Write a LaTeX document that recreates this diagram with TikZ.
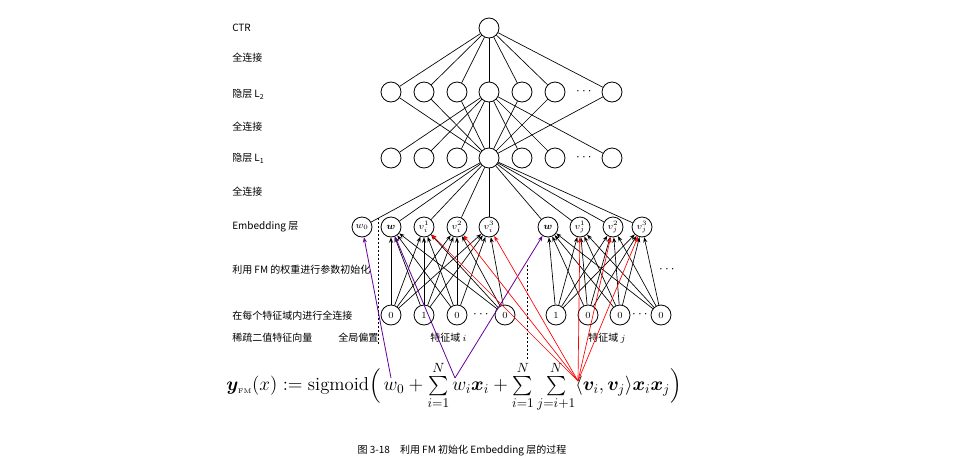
\documentclass[tikz,border=0pt]{standalone}
\usepackage{amsmath}
\usepackage{bm}
\usepackage{fontspec}
\newfontfamily\cjk{Noto Sans CJK SC}
\usetikzlibrary{arrows.meta}
\begin{document}
\begin{tikzpicture}[x=0.75pt,y=-0.75pt,
  neuron/.style={circle,draw,line width=0.6pt,minimum size=15pt,inner sep=0pt,font=\scriptsize},
  lab/.style={anchor=west,font=\cjk\fontsize{7.5}{9}\selectfont,inner sep=0pt},
  conn/.style={line width=0.5pt},
  arr/.style={line width=0.5pt,-{Stealth[length=4pt]}},
  redarr/.style={red,line width=0.5pt,-{Stealth[length=4pt]}},
  purarr/.style={violet!80!blue,line width=0.6pt,-{Stealth[length=4pt]}}]
\useasboundingbox (0,0) rectangle (978,461);
% labels
\node[lab] (t1) at (232,28) {CTR};
\node[lab] (t2) at (232,58) {全连接};
\node[lab] (t3) at (232,94) {隐层 L\textsubscript{2}};
\node[lab] (t4) at (232,127) {全连接};
\node[lab] (t5) at (232,158) {隐层 L\textsubscript{1}};
\node[lab] (t6) at (232,192) {全连接};
\node[lab] (t7) at (232,227) {Embedding 层};
\node[lab] (t8) at (232,270) {利用 FM 的权重进行参数初始化};
\node[lab] (t9) at (232,316) {在每个特征域内进行全连接};
\node[lab] (t10) at (232,338) {稀疏二值特征向量};
\node[lab] (t11) at (338,338) {全局偏置};
\node[lab] (t12) at (430,338) {特征域 $i$};
\node[lab] (t13) at (588,338) {特征域 $j$};
% top
\node[neuron] (ctr) at (489,28) {};
\foreach \x [count=\k] in {391,424,457,489,522,555,612}{
  \node[neuron] (h2\k) at (\x,92) {};
  \node[neuron] (h1\k) at (\x,158) {};
}
\foreach \k in {1,...,7}{
  \draw[conn] (ctr) -- (h2\k);
  \draw[conn] (h24) -- (h1\k);
  \draw[conn] (h2\k) -- (h14);
}
\node (d1) at (585,92) {$\cdots$};
\node (d2) at (585,158) {$\cdots$};
% embedding
\node[neuron] (w0) at (362,227) {$w_0$};
\node[neuron] (ea) at (391,227) {$\bm{w}$};
\node[neuron] (eb) at (424,227) {$v_i^1$};
\node[neuron] (ec) at (457,227) {$v_i^2$};
\node[neuron] (ed) at (489,227) {$v_i^3$};
\node[neuron] (fa) at (548,227) {$\bm{w}$};
\node[neuron] (fb) at (580,227) {$v_j^1$};
\node[neuron] (fc) at (613,227) {$v_j^2$};
\node[neuron] (fd) at (642,227) {$v_j^3$};
\foreach \n in {w0,ea,eb,ec,ed,fa,fb,fc,fd}{\draw[conn] (h14) -- (\n);}
% inputs
\node[neuron] (ia) at (391,315) {0};
\node[neuron] (ib) at (424,315) {1};
\node[neuron] (ic) at (457,315) {0};
\node[neuron] (id) at (505,315) {0};
\node[neuron] (ja) at (556,315) {1};
\node[neuron] (jb) at (588,315) {0};
\node[neuron] (jc) at (620,315) {0};
\node[neuron] (jd) at (661,315) {0};
\node (d3) at (482,315) {$\cdots$};
\node (d4) at (641,315) {$\cdots$};
\node (d5) at (668,270) {$\cdots$};
\foreach \s in {ia,ib,ic,id}{\foreach \t in {ea,eb,ec,ed}{\draw[arr] (\s) -- (\t);}}
\foreach \s in {ja,jb,jc,jd}{\foreach \t in {fa,fb,fc,fd}{\draw[arr] (\s) -- (\t);}}
% dotted separators
\coordinate (s1) at (378,218); \coordinate (s2) at (378,345);
\coordinate (s3) at (527,265); \coordinate (s4) at (527,360);
\draw[line width=0.6pt,dash pattern=on 1.5pt off 1.5pt] (s1) -- (s2);
\draw[line width=0.6pt,dash pattern=on 1.5pt off 1.5pt] (s3) -- (s4);
% formula
\node[inner sep=0pt,font=\fontsize{14}{17}\selectfont] (fm) at (454,387) {$\bm{y}_{\text{\tiny FM}}(x) := \mathrm{sigmoid}\Big(\, w_0 + \sum\limits_{i=1}^{N} w_i \bm{x}_i + \sum\limits_{i=1}^{N}\sum\limits_{j=i+1}^{N} \langle \bm{v}_i,\bm{v}_j\rangle \bm{x}_i\bm{x}_j\Big)$};
\coordinate (pw0) at (391,378);
\coordinate (pwi) at (455,378);
\coordinate (pv) at (578,381);
\draw[purarr] (pw0) -- (w0);
\draw[purarr] (pwi) -- (ea);
\draw[purarr] (pwi) -- (fa);
\foreach \t in {eb,ec,ed,fb,fc,fd}{\draw[redarr] (pv) -- (\t);}
\node[font=\cjk\fontsize{7.5}{9}\selectfont] (cap) at (462,451) {图 3-18\quad 利用 FM 初始化 Embedding 层的过程};
\end{tikzpicture}
\end{document}
